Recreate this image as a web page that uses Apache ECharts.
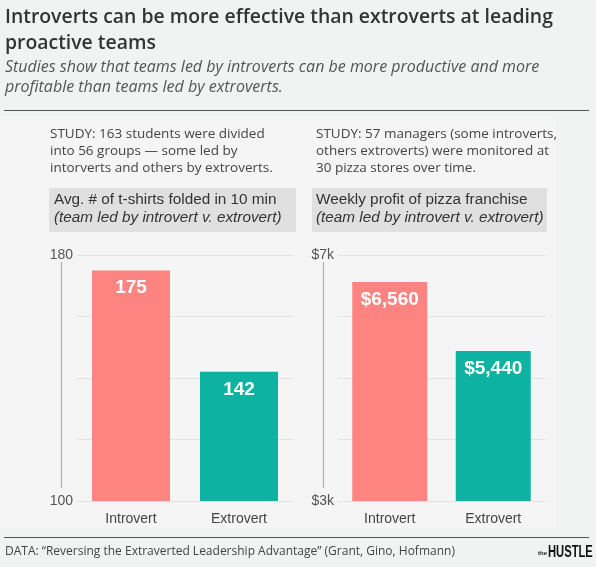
<!DOCTYPE html>
<html>
<head>
<meta charset="utf-8">
<script src="https://cdn.jsdelivr.net/npm/echarts@6/dist/echarts.min.js"></script>
<style>
html,body{margin:0;padding:0;background:#f1f2f2;}
#chart{width:596px;height:567px;}
</style>
</head>
<body>
<div id="chart"></div>
<script>
// ---- data ----
var categories = ['Introvert', 'Extrovert'];
var shirtsFolded = [175, 142];          // avg # of t-shirts folded in 10 min
var weeklyProfit = [6560, 5440];        // weekly profit of pizza franchise ($)
var shirtsAxis = {min: 100, max: 180, interval: 20};
var profitAxis = {min: 3000, max: 7000, interval: 1000};
var shirtsTickLabels = {100: '100', 180: '180'};
var profitTickLabels = {3000: '$3k', 7000: '$7k'};
var barColors = ['#fe8482', '#0db3a0'];

var titleLines = ['Introverts can be more effective than extroverts at leading', 'proactive teams'];
var subtitleLines = ['Studies show that teams led by introverts can be more productive and more', 'profitable than teams led by extroverts.'];
var leftStudy = ['STUDY: 163 students were divided', 'into 56 groups \u2014 some led by', 'intorverts and others by extroverts.'];
var rightStudy = ['STUDY: 57 managers (some introverts,', 'others extroverts) were monitored at', '30 pizza stores over time.'];
var leftHeader = ['Avg. # of t-shirts folded in 10 min', '(team led by introvert v. extrovert)'];
var rightHeader = ['Weekly profit of pizza franchise', '(team led by introvert v. extrovert)'];
var sourceText = 'DATA: \u201cReversing the Extraverted Leadership Advantage\u201d (Grant, Gino, Hofmann)';

var chart = echarts.init(document.getElementById('chart'), null, {renderer: 'canvas'});

function fmtMoney(v) {
  return '$' + v.toLocaleString('en-US');
}

function txt(x, y, s, style) {
  return {type: 'text', left: x, top: y, style: Object.assign({text: s, fill: '#444', font: '13px "Open Sans"'}, style || {})};
}

var graphics = [
  {type: 'rect', shape: {x: 0, y: 116, width: 556, height: 412}, style: {fill: '#f5f5f5'}, z: -10},
  txt(5, 4, titleLines.join('\n'), {fill: '#333', font: '600 19.4px "Open Sans"', lineHeight: 26}),
  txt(5, 57, subtitleLines.join('\n'), {fill: '#555', font: 'italic 16px "Open Sans"', lineHeight: 20}),
  {type: 'line', shape: {x1: 4, y1: 110.5, x2: 589, y2: 110.5}, style: {stroke: '#555', lineWidth: 1.2}},
  txt(50, 126, leftStudy.join('\n'), {fill: '#444', font: '13.5px "Open Sans"', lineHeight: 17}),
  txt(316, 126, rightStudy.join('\n'), {fill: '#444', font: '13.5px "Open Sans"', lineHeight: 17}),
  {type: 'rect', shape: {x: 49, y: 188, width: 247, height: 44}, style: {fill: '#e0e0e0'}},
  {type: 'rect', shape: {x: 312, y: 188, width: 235, height: 44}, style: {fill: '#e0e0e0'}},
  txt(54, 192, leftHeader[0], {fill: '#333', font: '15.3px "Liberation Sans"'}),
  txt(54, 210, leftHeader[1], {fill: '#333', font: 'italic 15.3px "Liberation Sans"'}),
  txt(316, 192, rightHeader[0], {fill: '#333', font: '15.3px "Liberation Sans"'}),
  txt(316, 210, rightHeader[1], {fill: '#333', font: 'italic 15.3px "Liberation Sans"'}),
  {type: 'line', shape: {x1: 61.5, y1: 262, x2: 61.5, y2: 488}, style: {stroke: '#b0b0b0', lineWidth: 1.2}},
  {type: 'line', shape: {x1: 323.5, y1: 262, x2: 323.5, y2: 488}, style: {stroke: '#b0b0b0', lineWidth: 1.2}},
  {type: 'line', shape: {x1: 4, y1: 537.5, x2: 589, y2: 537.5}, style: {stroke: '#555', lineWidth: 1.2}},
  txt(5, 546, sourceText, {fill: '#444', font: '12px "Open Sans"'}),
  {type: 'text', x: 538, y: 550, style: {text: 'the', fill: '#222', font: 'bold 6px "Liberation Sans"'}},
  {type: 'text', x: 548, y: 545, scaleX: 0.7, style: {text: 'HUSTLE', fill: '#111', font: 'bold 16px "Liberation Sans"'}}
];

function catAxis(gridIndex) {
  return {
    type: 'category', gridIndex: gridIndex, data: categories,
    axisLine: {show: false}, axisTick: {show: false},
    axisLabel: {color: '#444', fontSize: 14, fontFamily: 'Liberation Sans', margin: 11}
  };
}
function valAxis(gridIndex, cfg, labels) {
  return {
    type: 'value', gridIndex: gridIndex, min: cfg.min, max: cfg.max, interval: cfg.interval,
    axisLine: {show: false}, axisTick: {show: false},
    splitLine: {lineStyle: {color: '#e1e1e1', width: 1}},
    axisLabel: {
      color: '#555', fontSize: 14, fontFamily: 'Liberation Sans', margin: 4,
      formatter: function (v) { return labels[v] || ''; }
    }
  };
}

var option = {
  backgroundColor: '#f1f2f2',
  animation: false,
  graphic: graphics,
  grid: [
    {left: 77, right: 303, top: 255, bottom: 66},
    {left: 338, right: 51, top: 255, bottom: 66}
  ],
  xAxis: [catAxis(0), catAxis(1)],
  yAxis: [valAxis(0, shirtsAxis, shirtsTickLabels), valAxis(1, profitAxis, profitTickLabels)],
  series: [
    {
      type: 'bar', xAxisIndex: 0, yAxisIndex: 0, barWidth: 78,
      data: shirtsFolded.map(function (v, i) { return {value: v, itemStyle: {color: barColors[i]}}; }),
      label: {show: true, position: 'insideTop', distance: 8, color: '#fff', fontSize: 19, fontWeight: 'bold', fontFamily: 'Liberation Sans'}
    },
    {
      type: 'bar', xAxisIndex: 1, yAxisIndex: 1, barWidth: 75,
      data: weeklyProfit.map(function (v, i) { return {value: v, itemStyle: {color: barColors[i]}}; }),
      label: {show: true, position: 'insideTop', distance: 8, color: '#fff', fontSize: 19, fontWeight: 'bold', fontFamily: 'Liberation Sans',
        formatter: function (p) { return fmtMoney(p.value); }}
    }
  ]
};
chart.setOption(option);
</script>
</body>
</html>
